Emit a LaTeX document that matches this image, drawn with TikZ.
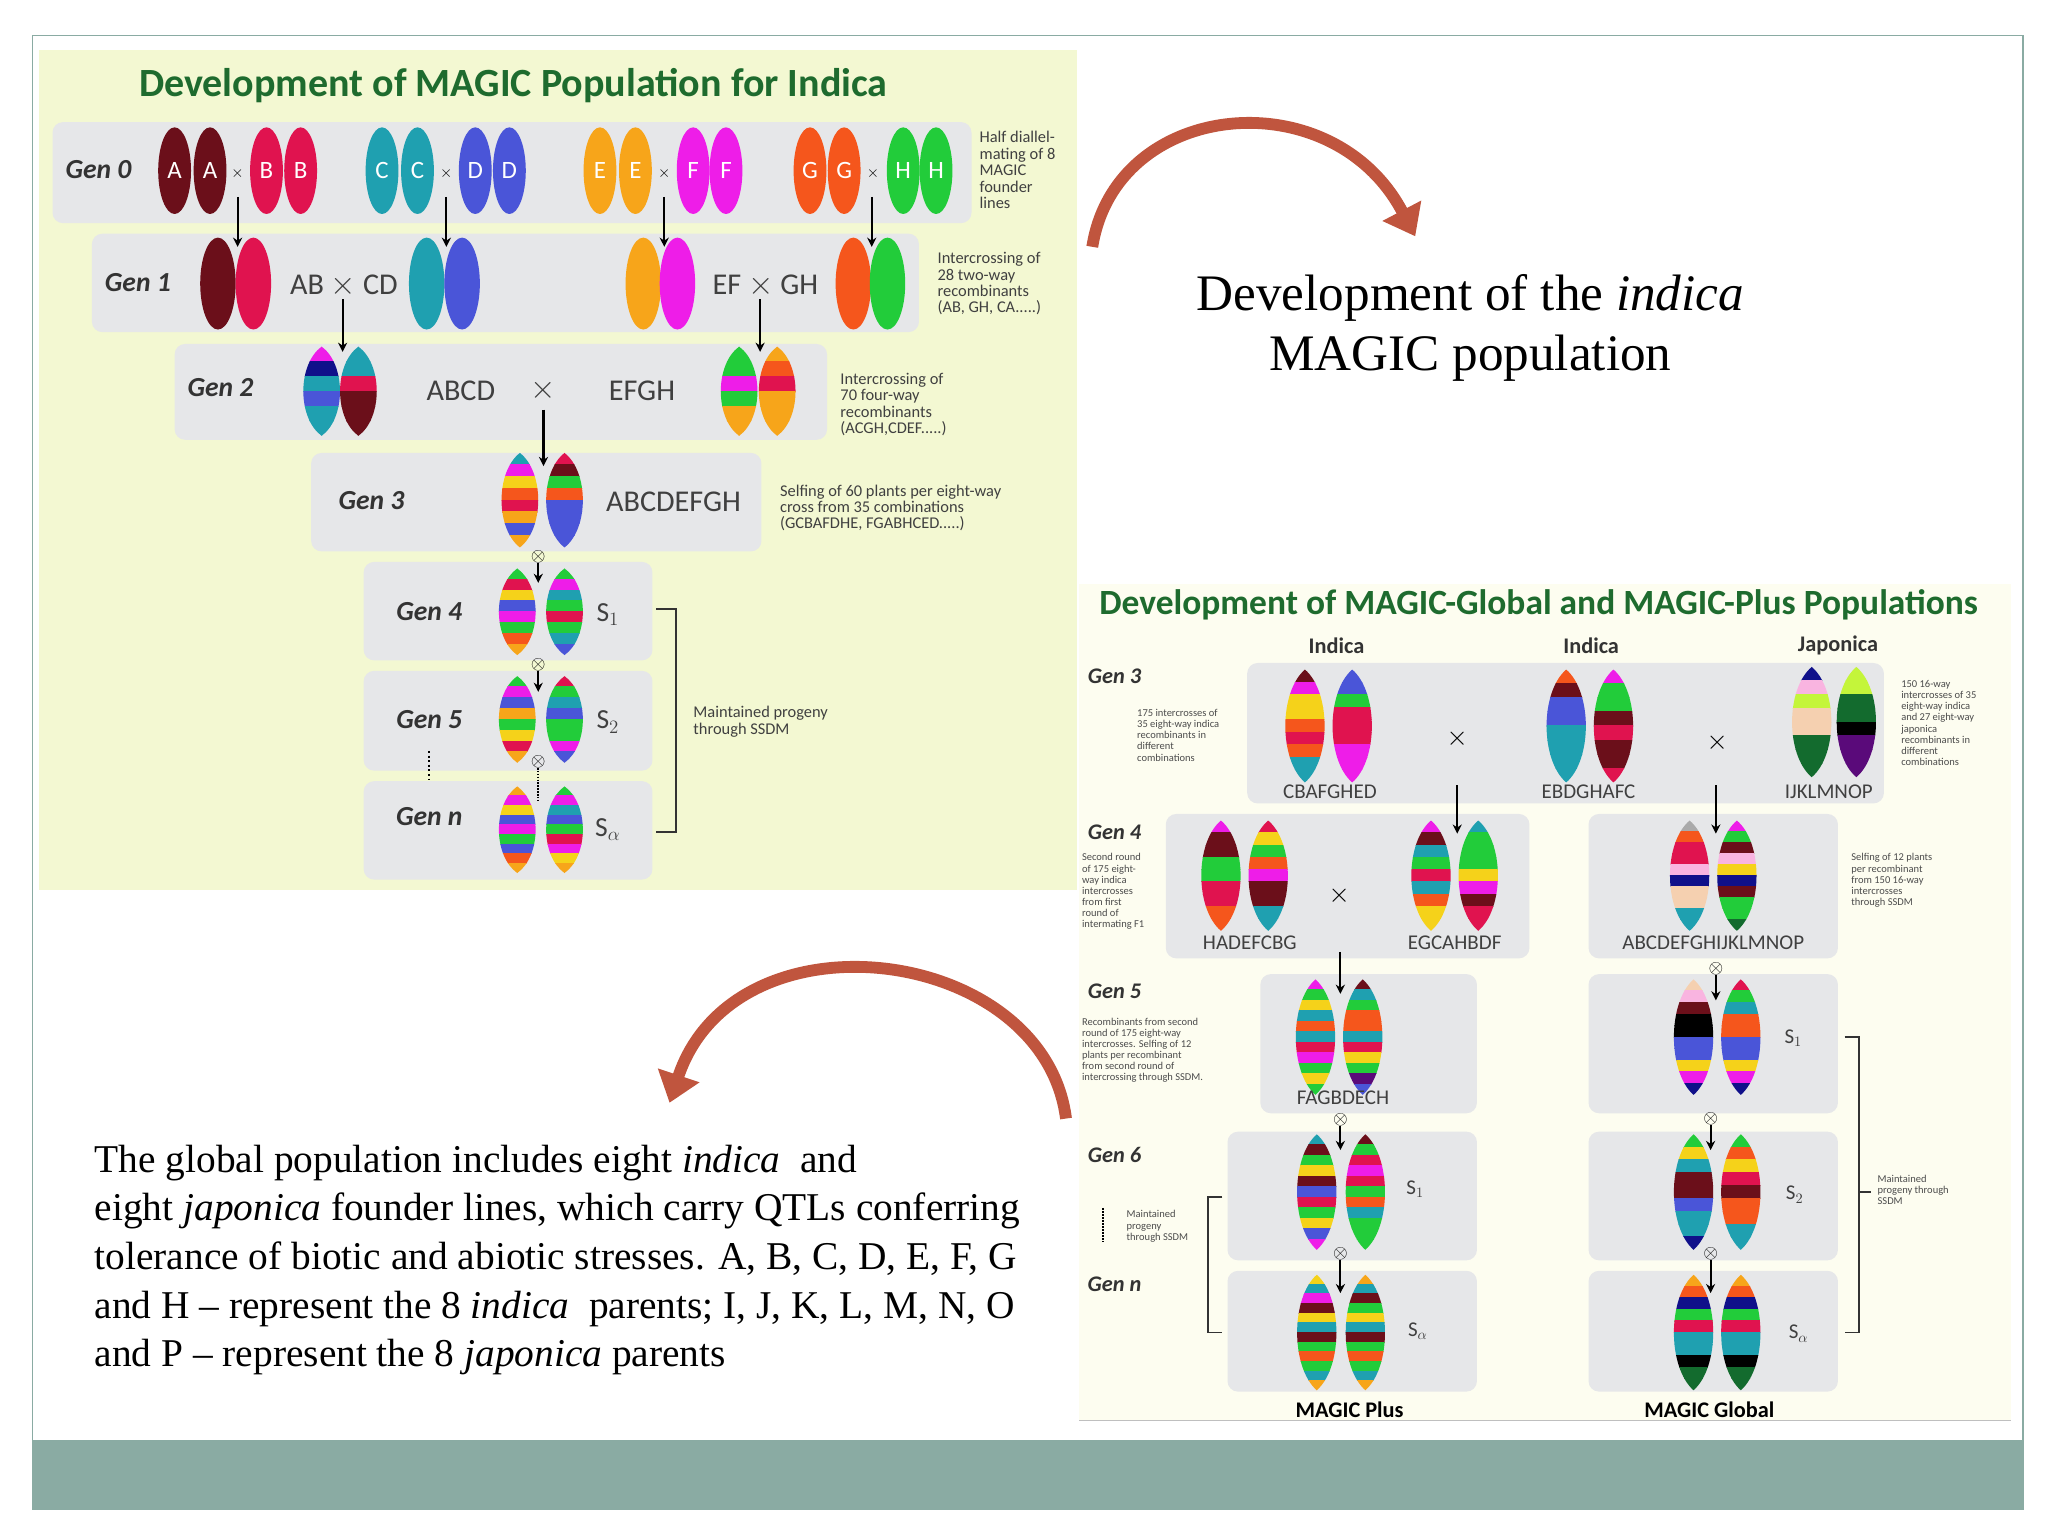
\documentclass[tikz,border=0pt]{standalone}
\usepackage{fontspec}
\setmainfont{Liberation Serif}
\newfontfamily\df{Carlito}
\usetikzlibrary{arrows.meta}
\definecolor{mar}{HTML}{6B0F1A}\definecolor{cri}{HTML}{E0134F}\definecolor{tea}{HTML}{1FA0B0}
\definecolor{blu}{HTML}{4A55D8}\definecolor{ora}{HTML}{F7A51A}\definecolor{mag}{HTML}{EE1DE8}
\definecolor{rdo}{HTML}{F5561C}\definecolor{grn}{HTML}{22CC3A}\definecolor{yel}{HTML}{F5D21A}
\definecolor{dgr}{HTML}{136B2E}\definecolor{pnk}{HTML}{F9B4E0}\definecolor{lim}{HTML}{C4F53A}
\definecolor{nav}{HTML}{10108A}\definecolor{pur}{HTML}{5A0A7A}\definecolor{pch}{HTML}{F5D0B0}
\definecolor{lbl}{HTML}{A8E8F0}\definecolor{gry}{HTML}{AAAAAA}
\definecolor{panelA}{HTML}{F3F8D2}\definecolor{panelB}{HTML}{FDFDF0}\definecolor{boxg}{HTML}{E6E7E9}
\definecolor{ttl}{HTML}{1E6B2E}\definecolor{frame}{HTML}{8AABA3}\definecolor{arr}{HTML}{C0553E}
\newcommand\chr[6]{%
 \begin{scope}
 \clip (#1,#2-#4) .. controls (#1+1.33*#3,#2-0.6*#4) and (#1+1.33*#3,#2+0.6*#4) .. (#1,#2+#4)
   .. controls (#1-1.33*#3,#2+0.6*#4) and (#1-1.33*#3,#2-0.6*#4) .. cycle;
 \foreach \c [count=\i] in {#6} {
   \fill[\c] (#1-#3-2,#2-#4+\i*2*#4/#5-2*#4/#5-0.4) rectangle (#1+#3+2,#2-#4+\i*2*#4/#5+0.4);
 }
 \end{scope}}
\tikzset{
 gbox/.style={fill=boxg,rounded corners=8pt,draw=none},
 glab/.style={font=\df\bfseries\itshape\fontsize{21}{22}\selectfont,text=black!80},
 oval/.style={ellipse,fill=#1,minimum width=25pt,minimum height=66pt,inner sep=0pt,text=white,font=\df\fontsize{19}{20}\selectfont},
 cr/.style={font=\df\fontsize{23}{24}\selectfont,text=black!75},
 lbl/.style={font=\df\fontsize{21}{22}\selectfont,text=black!75},
 note/.style={font=\df\fontsize{12.5}{12.5}\selectfont,align=left,anchor=north west,text=black!75,inner sep=0pt},
 tiny/.style={font=\df\fontsize{8}{8.5}\selectfont,align=left,anchor=north west,text=black!70,inner sep=0pt},
 dn/.style={-{Stealth[length=7pt,width=7pt]},line width=1.6pt},
 self/.style={font=\fontsize{15}{15}\selectfont,inner sep=0pt},
 brk/.style={line width=1.3pt,black!80},
 bigarr/.style={line width=9pt,arr,-{Triangle[length=22pt,width=32pt]}},
}
\usetikzlibrary{shapes.geometric}
\begin{document}
\begin{tikzpicture}[x=1pt,y=-1pt]
\useasboundingbox (0,0) rectangle (1560,1170);
\fill[white] (0,0) rectangle (1560,1170);
\draw[frame,line width=1pt] (25,27) rectangle (1541,1150);
\fill[frame] (25,1097) rectangle (1541,1150);
% ===== top-left panel
\fill[panelA] (30,38) rectangle (820,678);
\node[font=\df\bfseries\fontsize{30.5}{31}\selectfont,text=ttl] (t1) at (391,65) {Development of MAGIC Population for Indica};
\fill[gbox] (40,93) rectangle (740,170);
\fill[gbox] (70,178) rectangle (700,253);
\fill[gbox] (133,262) rectangle (630,335);
\fill[gbox] (237,345) rectangle (580,420);
\fill[gbox] (277,428) rectangle (497,503);
\fill[gbox] (277,511) rectangle (497,587);
\fill[gbox] (277,595) rectangle (497,670);
\node[glab] (g0) at (75,129) {Gen 0};
\node[glab] (g1) at (105,215) {Gen 1};
\node[glab] (g2) at (168,295) {Gen 2};
\node[glab] (g3) at (283,381) {Gen 3};
\node[glab] (g4) at (327,466) {Gen 4};
\node[glab] (g5) at (327,548) {Gen 5};
\node[glab] (gn) at (327,622) {Gen \textit{n}};
\draw[line width=1.5pt,dotted] (327,572) -- (327,596);
% gen 0
\node[oval=mar] (a1) at (133,130) {A}; \node[oval=mar] (a2) at (160,130) {A};
\node[oval=cri] (b1) at (203,130) {B}; \node[oval=cri] (b2) at (229,130) {B};
\node[oval=tea] (c1) at (291,130) {C}; \node[oval=tea] (c2) at (318,130) {C};
\node[oval=blu] (d1) at (362,130) {D}; \node[oval=blu] (d2) at (388,130) {D};
\node[oval=ora] (e1) at (457,130) {E}; \node[oval=ora] (e2) at (484,130) {E};
\node[oval=mag] (f1) at (528,130) {F}; \node[oval=mag] (f2) at (553,130) {F};
\node[oval=rdo] (h1) at (617,130) {G}; \node[oval=rdo] (h2) at (643,130) {G};
\node[oval=grn] (i1) at (688,130) {H}; \node[oval=grn] (i2) at (713,130) {H};
\foreach \x/\n in {181/x1,340/x2,506/x3,665/x4} {\node[font=\fontsize{13}{13}\selectfont] (\n) at (\x,132) {$\times$};}
% gen 1
\node[oval=mar,minimum width=27pt,minimum height=70pt] (p1) at (166,216) {};
\node[oval=cri,minimum width=27pt,minimum height=70pt] (p2) at (193,216) {};
\node[cr] (abcd) at (262,218) {AB $\times$ CD};
\node[oval=tea,minimum width=27pt,minimum height=70pt] (p3) at (325,216) {};
\node[oval=blu,minimum width=27pt,minimum height=70pt] (p4) at (352,216) {};
\node[oval=ora,minimum width=27pt,minimum height=70pt] (p5) at (490,216) {};
\node[oval=mag,minimum width=27pt,minimum height=70pt] (p6) at (516,216) {};
\node[cr] (efgh) at (583,218) {EF $\times$ GH};
\node[oval=rdo,minimum width=27pt,minimum height=70pt] (p7) at (650,216) {};
\node[oval=grn,minimum width=27pt,minimum height=70pt] (p8) at (676,216) {};
\foreach \x in {181,340,506,664} {\coordinate (s\x) at (\x,150); \coordinate (e\x) at (\x,188); \draw[dn] (s\x) -- (e\x);}
% gen 2
\chr{245}{298}{14}{34}{6}{mag,nav,tea,blu,tea,tea}
\chr{273}{298}{14}{34}{6}{tea,tea,cri,mar,mar,mar}
\node[cr] (ABCD) at (351,298) {ABCD};
\node[cr] (X2) at (414,297) {$\times$};
\node[cr] (EFGH) at (489,298) {EFGH};
\chr{563}{298}{14}{34}{6}{grn,grn,mag,grn,ora,ora}
\chr{592}{298}{14}{34}{6}{ora,rdo,cri,ora,ora,ora}
\foreach \x in {261,579} {\coordinate (u\x) at (\x,228); \coordinate (w\x) at (\x,268); \draw[dn] (u\x) -- (w\x);}
\coordinate (m1) at (414,312); \coordinate (m2) at (414,355); \draw[dn] (m1) -- (m2);
% gen 3
\chr{396}{381}{14}{36}{8}{tea,mag,yel,rdo,cri,ora,blu,ora}
\chr{430}{381}{14}{36}{8}{cri,mar,grn,rdo,blu,blu,blu,blu}
\node[cr] (A8) at (513,382) {ABCDEFGH};
% gen 4,5,n
\chr{394}{466}{14}{33}{8}{grn,cri,yel,blu,mag,grn,rdo,ora}
\chr{430}{466}{14}{33}{8}{grn,mag,tea,grn,cri,grn,tea,blu}
\chr{394}{548}{14}{33}{8}{grn,mag,blu,ora,grn,yel,cri,ora}
\chr{430}{548}{14}{33}{8}{cri,grn,tea,blu,grn,grn,mag,blu}
\chr{394}{632}{14}{33}{9}{ora,mag,yel,blu,mag,grn,blu,rdo,ora}
\chr{430}{632}{14}{33}{9}{grn,mag,tea,blu,grn,cri,mag,yel,ora}
\node[lbl] (S1a) at (463,468) {S$_1$};
\node[lbl] (S2a) at (463,550) {S$_2$};
\node[lbl] (Sna) at (463,632) {S$_\alpha$};
\node[self] (sx1) at (410,424) {$\otimes$};
\node[self] (sx2) at (410,506) {$\otimes$};
\node[self] (sx3) at (410,580) {$\otimes$};
\draw[dn] (sx1) -- (410,444);
\draw[dn] (sx2) -- (410,527);
\draw[line width=1.2pt,densely dotted] (sx3) -- (410,610);
\coordinate (bk1) at (500,464); \coordinate (bk2) at (500,634);
\draw[brk] (bk1) -- ++(15,0) |- (bk2);
\node[note] (nm) at (528,538) {Maintained progeny\\through SSDM};
\node[note] (n0) at (746,100) {Half diallel-\\mating of 8\\MAGIC\\founder\\lines};
\node[note] (n1) at (714,192) {Intercrossing of\\28 two-way\\recombinants\\(AB, GH, CA.....)};
\node[note] (n2) at (640,284) {Intercrossing of\\70 four-way\\recombinants\\(ACGH,CDEF.....)};
\node[note] (n3) at (594,369) {Selfing of 60 plants per eight-way\\cross from 35 combinations\\(GCBAFDHE, FGABHCED.....)};
% ===== curved arrows and text
\coordinate (ca1) at (832,188); \coordinate (ca2) at (1078,180);
\draw[bigarr] (ca1) .. controls (850,75) and (1015,60) .. (ca2);
\node[font=\fontsize{39}{46}\selectfont,align=center] (dt) at (1120,250) {Development of the \textit{indica}\\ MAGIC population};
\coordinate (cb1) at (812,852); \coordinate (cb2) at (510,840);
\draw[bigarr] (cb1) .. controls (795,720) and (560,690) .. (cb2);
\node[font=\fontsize{30}{37}\selectfont,align=left,anchor=north west,inner sep=0pt] (gt) at (72,872) {The global population includes eight \textit{indica}\ \ and\\eight \textit{japonica} founder lines, which carry QTLs conferring\\tolerance of biotic and abiotic stresses. A, B, C, D, E, F, G\\and H -- represent the 8 \textit{indica}\ \ parents; I, J, K, L, M, N, O\\and P -- represent the 8 \textit{japonica} parents};
% ===== bottom-right panel
\fill[panelB] (822,445) rectangle (1532,1082);
\draw[black!25,line width=1pt] (822,1082) -- (1532,1082);
\node[font=\df\bfseries\fontsize{27}{28}\selectfont,text=ttl] (t2) at (1172,461) {Development of MAGIC-Global and MAGIC-Plus Populations};
\node[font=\df\bfseries\fontsize{17}{18}\selectfont,text=black!80] (hi1) at (1018,492) {Indica};
\node[font=\df\bfseries\fontsize{17}{18}\selectfont,text=black!80] (hi2) at (1212,492) {Indica};
\node[font=\df\bfseries\fontsize{17}{18}\selectfont,text=black!80] (hj) at (1400,492) {Japonica};
\fill[gbox] (950,505) rectangle (1435,612);
\fill[gbox] (888,620) rectangle (1165,730);
\fill[gbox] (1210,620) rectangle (1400,730);
\fill[gbox] (960,742) rectangle (1125,848);
\fill[gbox] (1210,742) rectangle (1400,848);
\fill[gbox] (935,862) rectangle (1125,960);
\fill[gbox] (1210,862) rectangle (1400,960);
\fill[gbox] (935,968) rectangle (1125,1060);
\fill[gbox] (1210,968) rectangle (1400,1060);
\tikzset{glab2/.style={font=\df\bfseries\itshape\fontsize{17}{18}\selectfont,text=black!80},
 lb2/.style={font=\df\fontsize{16}{17}\selectfont,text=black!75},
 xx/.style={font=\fontsize{20}{20}\selectfont}}
\node[glab2] (h3) at (849,515) {Gen 3};
\node[glab2] (h4) at (849,634) {Gen 4};
\node[glab2] (h5) at (849,755) {Gen 5};
\node[glab2] (h6) at (849,880) {Gen 6};
\node[glab2] (hn) at (849,978) {Gen \textit{n}};
% gen3
\chr{994}{553}{15}{43}{9}{mar,mag,yel,yel,rdo,cri,rdo,tea,tea}
\chr{1030}{553}{15}{43}{9}{blu,blu,grn,cri,cri,cri,mag,mag,mag}
\node[lb2] (c3a) at (1013,603) {CBAFGHED};
\node[xx] (x3a) at (1110,563) {$\times$};
\chr{1193}{553}{15}{43}{8}{rdo,mar,blu,blu,tea,tea,tea,tea}
\chr{1229}{553}{15}{43}{8}{mag,grn,grn,mar,cri,mar,mar,cri}
\node[lb2] (c3b) at (1210,603) {EBDGHAFC};
\node[xx] (x3b) at (1308,566) {$\times$};
\chr{1380}{550}{15}{42}{8}{nav,pnk,lim,pch,pch,dgr,dgr,dgr}
\chr{1414}{550}{15}{42}{8}{lim,lim,dgr,dgr,lbl,pur,pur,pur}
\node[lb2] (c3c) at (1393,603) {IJKLMNOP};
% gen4
\chr{930}{667}{15}{42}{9}{mag,mar,mar,grn,grn,cri,cri,rdo,rdo}
\chr{966}{667}{15}{42}{9}{cri,yel,grn,rdo,mag,mar,mar,tea,tea}
\node[lb2] (c4a) at (952,718) {HADEFCBG};
\node[xx] (x4) at (1020,682) {$\times$};
\chr{1090}{667}{15}{42}{9}{mag,mar,tea,grn,cri,tea,rdo,yel,yel}
\chr{1126}{667}{15}{42}{9}{tea,grn,grn,grn,yel,mag,mar,cri,cri}
\node[lb2] (c4b) at (1108,718) {EGCAHBDF};
\chr{1287}{667}{15}{42}{10}{gry,rdo,cri,cri,pnk,nav,pch,pch,tea,tea}
\chr{1323}{667}{15}{42}{10}{mag,grn,mar,pnk,yel,nav,mar,grn,grn,dgr}
\node[lb2] (c4c) at (1305,718) {ABCDEFGHIJKLMNOP};
\draw[dn] (1110,598) -- (1110,635);
\draw[dn] (1307,598) -- (1307,635);
\draw[dn] (1021,725) -- (1021,757);
% gen5
\chr{1002}{790}{15}{44}{11}{mag,grn,yel,tea,rdo,tea,cri,mag,grn,yel,grn}
\chr{1038}{790}{15}{44}{11}{mar,tea,grn,rdo,rdo,tea,cri,yel,grn,pur,blu}
\node[lb2] (c5) at (1023,836) {FAGBDECH};
\chr{1290}{790}{15}{44}{10}{pch,pnk,mar,lbl,lbl,blu,blu,yel,mag,nav}
\chr{1326}{790}{15}{44}{10}{cri,grn,tea,rdo,rdo,blu,blu,yel,mag,nav}
\node[lb2] (S1b) at (1366,791) {S$_1$};
% gen6
\chr{1003}{908}{15}{44}{11}{tea,mar,grn,yel,mar,blu,cri,grn,yel,blu,mag}
\chr{1040}{908}{15}{44}{11}{mar,grn,cri,mag,cri,grn,rdo,tea,grn,grn,grn}
\node[lb2] (S1c) at (1078,906) {S$_1$};
\chr{1290}{908}{15}{44}{9}{grn,yel,tea,mar,mar,blu,tea,tea,nav}
\chr{1326}{908}{15}{44}{9}{grn,rdo,yel,cri,mar,rdo,rdo,tea,tea}
\node[lb2] (S2b) at (1367,910) {S$_2$};
% gen n
\chr{1003}{1015}{15}{44}{12}{yel,tea,mag,mar,yel,tea,mar,grn,rdo,grn,tea,ora}
\chr{1040}{1015}{15}{44}{12}{ora,tea,mar,grn,yel,tea,mar,grn,rdo,grn,tea,ora}
\node[lb2] (Snb) at (1080,1014) {S$_\alpha$};
\chr{1290}{1015}{15}{44}{10}{ora,rdo,nav,grn,cri,tea,tea,lbl,dgr,dgr}
\chr{1326}{1015}{15}{44}{10}{ora,rdo,nav,grn,cri,tea,tea,lbl,dgr,dgr}
\node[lb2] (Snc) at (1370,1016) {S$_\alpha$};
\node[self] (y1) at (1021,853) {$\otimes$};
\node[self] (y2) at (1021,955) {$\otimes$};
\node[self] (y3) at (1307,738) {$\otimes$};
\node[self] (y4) at (1303,852) {$\otimes$};
\node[self] (y5) at (1303,955) {$\otimes$};
\draw[dn] (y1) -- (1021,876);
\draw[dn] (y3) -- (1307,762);
\draw[dn] (y4) -- (1303,876);
\draw[dn] (y2) -- (1021,985);
\draw[dn] (y5) -- (1303,985);
\coordinate (rb1) at (1405,790); \coordinate (rb2) at (1405,1015);
\draw[brk] (rb1) -- ++(11,0) |- (rb2);
\draw[brk] (1416,908) -- (1425,908);
\coordinate (lb1) at (931,912); \coordinate (lb2) at (931,1015);
\draw[brk] (lb1) -- ++(-11,0) |- (lb2);
\draw[line width=1.3pt,densely dotted] (840,920) -- (840,946);
\node[tiny] (tA) at (866,540) {175 intercrosses of\\35 eight-way indica\\recombinants in\\different\\combinations};
\node[tiny] (tB) at (1448,518) {150 16-way\\intercrosses of 35\\eight-way indica\\and 27 eight-way\\japonica\\recombinants in\\different\\combinations};
\node[tiny] (tC) at (824,650) {Second round\\of 175 eight-\\way indica\\intercrosses\\from first\\round of\\intermating F1};
\node[tiny] (tD) at (1410,650) {Selfing of 12 plants\\per recombinant\\from 150 16-way\\intercrosses\\through SSDM};
\node[tiny] (tE) at (824,775) {Recombinants from second\\round of 175 eight-way\\intercrosses. Selfing of 12\\plants per recombinant\\from second round of\\intercrossing through SSDM.};
\node[tiny] (tF) at (858,922) {Maintained\\progeny\\through SSDM};
\node[tiny] (tG) at (1430,895) {Maintained\\progeny through\\SSDM};
\node[font=\df\bfseries\fontsize{17}{18}\selectfont] (mp) at (1028,1074) {MAGIC Plus};
\node[font=\df\bfseries\fontsize{17}{18}\selectfont] (mg) at (1302,1074) {MAGIC Global};
\end{tikzpicture}
\end{document}
